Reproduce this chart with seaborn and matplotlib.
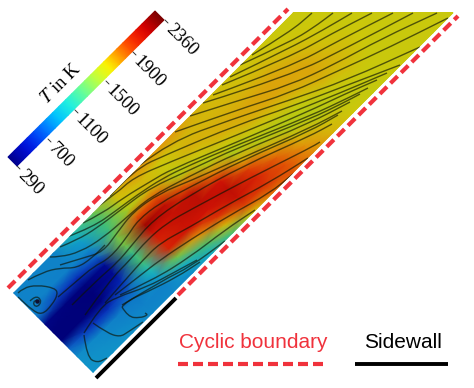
import numpy as np
import pandas as pd
import matplotlib
matplotlib.use("Agg")
import matplotlib.pyplot as plt
from matplotlib.colors import LinearSegmentedColormap
from matplotlib.patches import PathPatch, Polygon
from matplotlib.path import Path
from matplotlib.transforms import Affine2D
import seaborn as sns

# ---- data ----
across = [0, .1, .2, .3, .4, .5, .6, .7, .8, .9, 1]
along = list(range(0, 361, 20))
T_field = [
    [ 900,  900,  900,  880,  340,  300,  300,  820,  940,  960,  960],
    [ 900,  900,  900,  720,  320,  300,  300,  680,  920,  940,  960],
    [ 900,  900,  890,  660,  310,  290,  320,  660,  890,  920,  950],
    [1150, 1000,  930,  800,  400,  400,  600,  800,  880,  900,  920],
    [1380, 1280, 1280, 1400, 1400, 1250, 1300, 1150, 1000,  900,  920],
    [1700, 1650, 1550, 1950, 2280, 2150, 2100, 2100, 1400, 1050,  930],
    [1800, 1700, 1700, 1950, 2200, 2180, 2180, 2150, 1800, 1300, 1050],
    [1800, 1650, 1620, 1560, 1900, 2200, 2200, 2150, 2050, 1700, 1300],
    [1780, 1700, 1720, 1640, 1560, 1850, 2150, 2200, 2180, 2000, 1650],
    [1720, 1700, 1720, 1720, 1640, 1540, 1750, 2000, 2100, 2050, 1880],
    [1680, 1700, 1720, 1740, 1720, 1620, 1560, 1750, 1900, 1950, 1930],
    [1660, 1680, 1720, 1760, 1750, 1680, 1580, 1560, 1700, 1800, 1830],
    [1650, 1680, 1720, 1760, 1760, 1720, 1640, 1580, 1580, 1680, 1720],
    [1640, 1650, 1680, 1720, 1750, 1750, 1720, 1640, 1600, 1620, 1650],
    [1640, 1640, 1650, 1660, 1680, 1700, 1700, 1680, 1640, 1620, 1620],
    [1640, 1640, 1640, 1640, 1640, 1650, 1650, 1640, 1640, 1640, 1640],
    [1640, 1640, 1640, 1640, 1640, 1640, 1640, 1640, 1640, 1640, 1640],
    [1640, 1640, 1640, 1640, 1640, 1640, 1640, 1640, 1640, 1640, 1640],
    [1640, 1640, 1640, 1640, 1640, 1640, 1640, 1640, 1640, 1640, 1640],
]
T_ticks = [290, 700, 1100, 1500, 1900, 2360]
T_scale = [290, 500, 700, 900, 1100, 1300, 1500, 1650, 1800, 1950, 2150, 2360]
field_rgb = ["#000078", "#0014aa", "#0a3cbe", "#0f82c8", "#14bec8", "#46be6e",
             "#a0c81e", "#cdc80a", "#e1960a", "#e15005", "#d21405", "#820000"]
bar_rgb = ["#00008c", "#0010e0", "#0060ff", "#00c0ff", "#20f0e0", "#70ff90",
           "#d0ff30", "#fff000", "#ff9800", "#ff4000", "#e00000", "#7a0000"]
bar_values = [290, 380, 470, 560, 650, 740, 830, 920, 1010, 1100, 1190, 1280,
              1370, 1460, 1550, 1640, 1730, 1820, 1910, 2000, 2090, 2180, 2270, 2360]

streamlines = [
    [(252,55),(290,32),(312,13)],
    [(240,65),(290,42),(313,28),(333,13)],
    [(230,77),(290,48),(323,30),(352,13)],
    [(222,85),(290,57),(333,33),(372,13)],
    [(213,95),(290,67),(340,40),(393,13)],
    [(203,103),(290,76),(350,46),(413,13)],
    [(190,116),(240,100),(290,85),(333,65),(383,38),(437,13)],
    [(175,132),(237,110),(290,93),(340,70),(390,47),(448,18)],
    [(140,165),(170,142),(230,120),(290,100),(347,80),(420,47)],
    [(110,196),(133,170),(170,153),(237,125),(290,107),(345,86),(400,65)],
    [(93,210),(117,193),(133,178),(170,162),(237,135),(290,113),(340,93),(387,73)],
    [(83,223),(103,213),(123,198),(153,180),(170,170),(237,142),(307,112),(345,94),(377,80)],
    [(67,237),(93,227),(117,210),(137,195),(163,178),(190,165),(237,145),(310,116),(350,97),(368,88)],
    [(60,247),(77,240),(97,228),(123,208),(150,188),(190,170),(237,148),(310,119),(345,102),(360,94)],
    [(50,257),(60,257),(80,252),(103,238),(127,217),(150,197),(190,176),(237,153),(310,123),(350,102)],
    [(60,265),(83,258),(103,252),(117,233),(133,212),(160,193),(190,181),(237,160),(310,128),(342,111)],
    [(58,297),(78,280),(93,267),(110,258),(127,237),(138,220),(160,203),(190,187),(243,160),(310,131),(338,115)],
    [(72,305),(97,280),(117,263),(132,245),(153,220),(190,195),(243,166),(310,136),(332,124)],
    [(85,315),(110,280),(130,260),(147,240),(167,223),(190,210),(250,178),(310,148),(320,142)],
    [(105,303),(127,278),(143,260),(160,243),(190,227),(227,205),(270,182),(308,158)],
    [(115,295),(137,278),(160,260),(190,240),(230,215),(270,193),(293,174)],
    [(120,295),(153,280),(190,257),(225,230),(255,210)],
    [(122,305),(163,280),(190,267),(225,241)],
    [(84,333),(100,307),(117,297),(147,287),(173,273),(197,260)],
    [(122,307),(127,301),(147,292),(177,277),(200,262)],
    [(28,280),(43,272),(60,268),(77,268),(92,258),(105,245)],
    [(18,293),(23,288),(37,285),(55,288),(58,294),(52,305),(42,315),(32,310),(18,297)],
    [(30,301),(35,296),(41,299),(40,305),(35,307),(33,302),(37,300)],
    [(122,307),(128,317),(140,318),(148,315),(145,313)],
    [(93,323),(107,333),(120,337),(128,332),(143,322)],
    [(84,335),(87,357),(97,363),(107,358)],
]

# ---- layout ----
W, H = 474, 388
sns.set_theme(style="white")
fig = plt.figure(figsize=(W / 100, H / 100), dpi=100)
ax = fig.add_axes([0, 0, 1, 1])

field_cmap = LinearSegmentedColormap.from_list(
    "field", [((t - 290) / 2070, c) for t, c in zip(T_scale, field_rgb)])
bar_cmap = LinearSegmentedColormap.from_list(
    "bar", [((t - 290) / 2070, c) for t, c in zip(T_scale, bar_rgb)])

field = pd.DataFrame(T_field, index=along, columns=across)
sns.heatmap(field, ax=ax, cmap=field_cmap, vmin=290, vmax=2360, cbar=False,
            xticklabels=False, yticklabels=False, shading="gouraud")
field_mesh = ax.collections[-1]

ramp = pd.DataFrame([bar_values, bar_values], dtype=float)
sns.heatmap(ramp, ax=ax, cmap=bar_cmap, vmin=290, vmax=2360, cbar=False,
            xticklabels=False, yticklabels=False, shading="gouraud")
bar_mesh = ax.collections[-1]

ax.set_xlim(0, W)
ax.set_ylim(H, 0)
ax.set_axis_off()

def frame(x0, y0, ex, ey, fx, fy):
    return Affine2D.from_values(ex, ey, fx, fy, x0, y0) + ax.transData

n_u, n_s = len(across) - 1, len(along) - 1
field_mesh.set_transform(frame(13, 293, 80 / n_u, 80 / n_u, 20, -20))
clip = Polygon([(13, 293), (293, 12), (455, 12), (93, 373)], transform=ax.transData,
               fc="none", ec="none")
ax.add_patch(clip)
field_mesh.set_clip_path(clip)

n_bar = len(bar_values) - 1
bar_mesh.set_transform(frame(8, 157, 147 / n_bar, -146 / n_bar, 9, 9))

# streamlines
for pts in streamlines:
    pts = np.array(pts, float)
    verts = [pts[0]]
    codes = [Path.MOVETO]
    for i in range(1, len(pts) - 1):
        verts += [pts[i], (pts[i] + pts[i + 1]) / 2]
        codes += [Path.CURVE3, Path.CURVE3]
    verts.append(pts[-1])
    codes.append(Path.LINETO)
    patch = PathPatch(Path(verts, codes), fc="none", ec=(0.05, 0.08, 0.02, 0.65), lw=1.0)
    ax.add_patch(patch)
    patch.set_clip_path(clip)
ax.plot([37], [301], "o", ms=2.2, color="#101030")

# boundaries
red = "#f0323c"
dash = (0, (2.4, 1.2))
ax.plot([8, 288], [288, 9], color=red, lw=3.0, ls=dash, dash_capstyle="butt")
ax.plot([178, 458], [295, 16], color=red, lw=3.0, ls=dash, dash_capstyle="butt")
ax.plot([96, 176], [378, 298], color="black", lw=2.8, solid_capstyle="butt")

# colour bar ticks and labels
tick_pos = [(17, 166), (48, 139), (75, 110), (106, 81), (133, 52), (165, 20)]
for t, (x, y) in zip(T_ticks, tick_pos):
    ax.plot([x, x + 3], [y, y + 3], color="#333333", lw=0.7)
    ax.text(x + 3, y + 7, str(t), rotation=-45, rotation_mode="anchor", ha="left",
            va="center", family="Liberation Serif", fontsize=13.5, color="black")
ax.text(61, 84, r"$\mathit{T}$ in K", rotation=45, rotation_mode="anchor", ha="center",
        va="center", family="Liberation Serif", fontsize=13.5, color="black",
        math_fontfamily="stix")

# legend
ax.text(253, 343, "Cyclic boundary", color=red, family="Liberation Sans", fontsize=15,
        ha="center", va="center")
ax.plot([178, 328], [364, 364], color=red, lw=3.0, ls=dash, dash_capstyle="butt")
ax.text(403, 343, "Sidewall", color="black", family="Liberation Sans", fontsize=15,
        ha="center", va="center")
ax.plot([355, 448], [364, 364], color="black", lw=2.8, solid_capstyle="butt")

fig.savefig("out.png", dpi=100)
